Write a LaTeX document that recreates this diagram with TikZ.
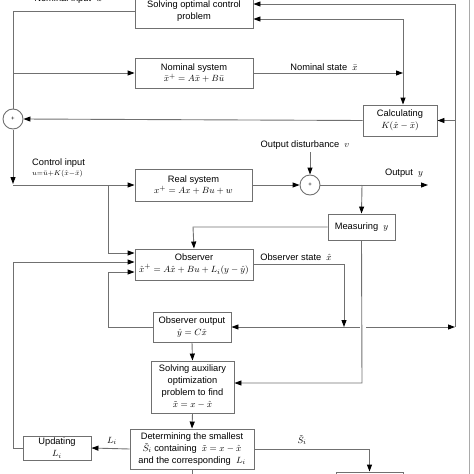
\documentclass[tikz,border=0pt]{standalone}
\usepackage{fontspec}
\setmainfont{Liberation Sans}
\usetikzlibrary{arrows.meta}
\definecolor{ln}{HTML}{707070}
\tikzset{
  box/.style={draw=ln, line width=0.9pt, align=center, inner sep=0pt, font=\fontsize{9.3}{11.8}\selectfont},
  sumc/.style={draw=ln, line width=0.9pt, circle, minimum size=20pt, inner sep=0pt, font=\fontsize{6}{6}\selectfont},
  wire/.style={draw=ln, line width=0.9pt},
  arr/.style={wire, -{Triangle[length=7pt,width=5pt,fill=black,color=black]}},
  lbl/.style={font=\fontsize{9.3}{11}\selectfont, inner sep=0pt, align=center}
}
\begin{document}
\begin{tikzpicture}[x=1pt,y=-1pt]
\useasboundingbox (0,0) rectangle (474,474);
% boxes
\node[box, minimum width=118pt, minimum height=34pt] (opt) at (194,11) {Solving optimal control\\problem};
\node[box, minimum width=118pt, minimum height=30pt] (nom) at (194,73) {Nominal system\\$\bar{x}^{+}=A\bar{x}+B\bar{u}$};
\node[box, minimum width=74pt, minimum height=31pt] (calc) at (400,120.5) {Calculating\\$K(\hat{x}-\bar{x})$};
\node[box, minimum width=117pt, minimum height=32pt] (real) at (193.5,185) {Real system\\$x^{+}=Ax+Bu+w$};
\node[box, minimum width=67pt, minimum height=26pt] (meas) at (361.5,227) {Measuring \ $y$};
\node[box, minimum width=118pt, minimum height=31pt] (obs) at (194,264.5) {Observer\\$\hat{x}^{+}=A\hat{x}+Bu+L_i(y-\hat{y})$};
\node[box, minimum width=78pt, minimum height=30pt] (oout) at (192,327) {Observer output\\$\hat{y}=C\hat{x}$};
\node[box, minimum width=83pt, minimum height=52pt, font=\fontsize{9.3}{12}\selectfont] (aux) at (192.5,387) {Solving auxiliary\\optimization\\problem to find\\$\tilde{x}=x-\hat{x}$};
\node[box, minimum width=124pt, minimum height=40pt] (det) at (192,449) {Determining the smallest\\$\tilde{S}_i$ containing \ $\tilde{x}=x-\hat{x}$\\and the corresponding \ $L_i$};
\node[box, minimum width=68pt, minimum height=24pt] (upd) at (57,448) {Updating\\$L_i$};
\node[box, minimum width=67pt, minimum height=18pt] (bot) at (369.5,481) {};
\node[sumc] (s1) at (13,119) {+};
\node[sumc] (s2) at (310,185) {+};
% labels
\node[lbl] (lnin) at (68,-1) {Nominal input \ $\bar{u}$};
\node[lbl] (lnst) at (324,67) {Nominal state \ $\bar{x}$};
\node[lbl, align=left, anchor=west] (lci) at (32,168) {Control input\\[-1pt]$\scriptstyle u=\bar{u}+K(\hat{x}-\bar{x})$};
\node[lbl] (ldist) at (305,145) {Output disturbance \ $v$};
\node[lbl] (lout) at (404,173) {Output \ $y$};
\node[lbl] (lobs) at (296,257) {Observer state \ $\hat{x}$};
\node[lbl] (lli) at (112,441) {$L_i$};
\node[lbl] (lsi) at (302,440) {$\tilde{S}_i$};
% coordinates
\coordinate (j1) at (403,19);
\coordinate (r1) at (455,4);
\coordinate (r2) at (455,327);
\coordinate (c1) at (13,11);
\coordinate (c2) at (13,184);
\coordinate (c3) at (108,185);
\coordinate (c4) at (362,185);
\coordinate (c5) at (428,185);
\coordinate (c6) at (344,327);
\coordinate (c7) at (360,327);
\coordinate (c8) at (366,327);
\coordinate (c9) at (362,383);
\coordinate (d1) at (310,152);
\coordinate (m1) at (193,227);
% wires
\draw[wire] (opt.west) -- (c1) -- (s1.north);
\draw[arr] (c1 |- nom.west) -- (nom.west);
\draw[arr] (c1 |- 0,130) -- (c2);
\draw[arr] (13,185) -- (real.west);
\draw[arr] (nom.east) -- (j1 |- nom.east);
\draw[arr] (j1) -- (opt.east |- j1);
\draw[arr] (j1) -- (j1 |- calc.north);
\draw[arr] (r1) -- (opt.east |- r1);
\draw[wire] (r1) -- (r2);
\draw[arr] (r2 |- calc.east) -- (calc.east);
\draw[arr] (calc.west) -- (s1.east);
\draw[arr] (c3) -- (108,253) -- (obs.west |- 0,253);
\draw[arr] (real.east) -- (s2.west);
\draw[arr] (d1) -- (s2.north);
\draw[arr] (s2.east) -- (c5);
\draw[arr] (c4) -- (meas.north);
\draw[arr] (meas.west) -- (m1) -- (obs.north);
\draw[arr] (obs.east) -- (c6 |- obs.east) -- (c6);
\draw[arr] (c6) -- (oout.east);
\draw[wire] (c6) -- (c7);
\draw[arr] (c8) -- (r2);
\draw[arr] (meas.south) -- (c9) -- (aux.east |- c9);
\draw[arr] (oout.west) -- (108,327) -- (108,272) -- (obs.west |- 0,272);
\draw[arr] (oout.south) -- (aux.north);
\draw[arr] (aux.south) -- (det.north);
\draw[arr] (det.west) -- (upd.east);
\draw[arr] (upd.west) -- (13,448) -- (13,262) -- (obs.west |- 0,262);
\draw[arr] (det.east) -- (bot.north |- det.east) -- (bot.north);
\draw[wire] (det.south) -- (192,480);
\draw[draw=ln!60, line width=1pt] (469,-2) -- (469,476);
\end{tikzpicture}
\end{document}
